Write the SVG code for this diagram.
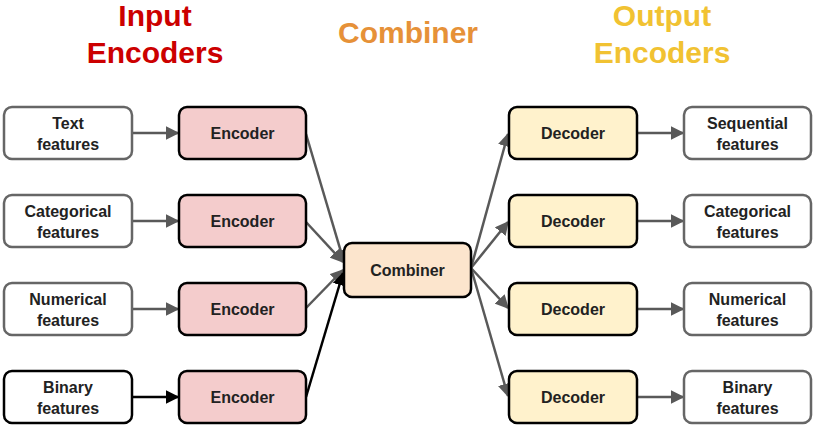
<svg xmlns="http://www.w3.org/2000/svg" width="815" height="425" viewBox="0 0 815 425">
<defs>
<marker id="ag" viewBox="0 0 10 10" refX="9" refY="5" markerWidth="5.5" markerHeight="5.5" markerUnits="strokeWidth" orient="auto"><path d="M0,0 L10,5 L0,10 z" fill="#595959"/></marker>
<marker id="ak" viewBox="0 0 10 10" refX="9" refY="5" markerWidth="5.5" markerHeight="5.5" markerUnits="strokeWidth" orient="auto"><path d="M0,0 L10,5 L0,10 z" fill="#000"/></marker>
</defs>
<style>
text{font-family:"Liberation Sans",Arial,sans-serif;font-weight:bold;text-anchor:middle}
.t{font-size:30px}
.l{font-size:16px;fill:#222}
.feat{fill:#fff;stroke:#666;stroke-width:2.5}
.featk{fill:#fff;stroke:#000;stroke-width:2.5}
.enc{fill:#f4cccc;stroke:#000;stroke-width:2.5}
.comb{fill:#fce5cd;stroke:#000;stroke-width:2.5}
.dec{fill:#fff2cc;stroke:#000;stroke-width:2.5}
.c{stroke:#595959;stroke-width:2.5;fill:none;marker-end:url(#ag)}
.ck{stroke:#000;stroke-width:2.5;fill:none;marker-end:url(#ak)}
</style>
<g id="titles">
<text class="t" x="155" y="26" fill="#cc0000">Input</text>
<text class="t" x="155" y="63" fill="#cc0000">Encoders</text>
<text class="t" x="408" y="43" fill="#e69138">Combiner</text>
<text class="t" x="662" y="26" fill="#f1c232">Output</text>
<text class="t" x="662" y="63" fill="#f1c232">Encoders</text>
</g>
<g id="connectors">
<line class="c" x1="132" y1="133" x2="178" y2="133"/>
<line class="c" x1="132" y1="221" x2="178" y2="221"/>
<line class="c" x1="132" y1="309" x2="178" y2="309"/>
<line class="ck" x1="132" y1="397" x2="178" y2="397"/>
<line class="c" x1="306" y1="134" x2="344" y2="262"/>
<line class="c" x1="306" y1="222" x2="343" y2="262"/>
<line class="c" x1="306" y1="308" x2="343" y2="270"/>
<line class="ck" x1="306" y1="397" x2="343" y2="273"/>
<line class="c" x1="471" y1="268" x2="508" y2="134"/>
<line class="c" x1="471" y1="268" x2="508" y2="222"/>
<line class="c" x1="471" y1="268" x2="508" y2="308"/>
<line class="c" x1="471" y1="268" x2="508" y2="396"/>
<line class="c" x1="637" y1="133" x2="683" y2="133"/>
<line class="c" x1="637" y1="221" x2="683" y2="221"/>
<line class="c" x1="637" y1="309" x2="683" y2="309"/>
<line class="c" x1="637" y1="397" x2="683" y2="397"/>
</g>
<g id="in-text"><rect class="feat" x="4" y="107" width="128" height="52" rx="8"/><text class="l" x="68" y="129">Text</text><text class="l" x="68" y="150">features</text></g>
<g id="in-cat"><rect class="feat" x="4" y="195" width="128" height="52" rx="8"/><text class="l" x="68" y="217">Categorical</text><text class="l" x="68" y="238">features</text></g>
<g id="in-num"><rect class="feat" x="4" y="283" width="128" height="52" rx="8"/><text class="l" x="68" y="305">Numerical</text><text class="l" x="68" y="326">features</text></g>
<g id="in-bin"><rect class="featk" x="4" y="371" width="128" height="52" rx="8"/><text class="l" x="68" y="393">Binary</text><text class="l" x="68" y="414">features</text></g>
<g id="enc1"><rect class="enc" x="179" y="107" width="127" height="52" rx="8"/><text class="l" x="242.5" y="139">Encoder</text></g>
<g id="enc2"><rect class="enc" x="179" y="195" width="127" height="52" rx="8"/><text class="l" x="242.5" y="227">Encoder</text></g>
<g id="enc3"><rect class="enc" x="179" y="283" width="127" height="52" rx="8"/><text class="l" x="242.5" y="315">Encoder</text></g>
<g id="enc4"><rect class="enc" x="179" y="371" width="127" height="52" rx="8"/><text class="l" x="242.5" y="403">Encoder</text></g>
<g id="combiner"><rect class="comb" x="344" y="243" width="127" height="54" rx="8"/><text class="l" x="407.5" y="276">Combiner</text></g>
<g id="dec1"><rect class="dec" x="509" y="107" width="128" height="52" rx="8"/><text class="l" x="573" y="139">Decoder</text></g>
<g id="dec2"><rect class="dec" x="509" y="195" width="128" height="52" rx="8"/><text class="l" x="573" y="227">Decoder</text></g>
<g id="dec3"><rect class="dec" x="509" y="283" width="128" height="52" rx="8"/><text class="l" x="573" y="315">Decoder</text></g>
<g id="dec4"><rect class="dec" x="509" y="371" width="128" height="52" rx="8"/><text class="l" x="573" y="403">Decoder</text></g>
<g id="out-seq"><rect class="feat" x="684" y="107" width="127" height="52" rx="8"/><text class="l" x="747.5" y="129">Sequential</text><text class="l" x="747.5" y="150">features</text></g>
<g id="out-cat"><rect class="feat" x="684" y="195" width="127" height="52" rx="8"/><text class="l" x="747.5" y="217">Categorical</text><text class="l" x="747.5" y="238">features</text></g>
<g id="out-num"><rect class="feat" x="684" y="283" width="127" height="52" rx="8"/><text class="l" x="747.5" y="305">Numerical</text><text class="l" x="747.5" y="326">features</text></g>
<g id="out-bin"><rect class="feat" x="684" y="371" width="127" height="52" rx="8"/><text class="l" x="747.5" y="393">Binary</text><text class="l" x="747.5" y="414">features</text></g>
</svg>
